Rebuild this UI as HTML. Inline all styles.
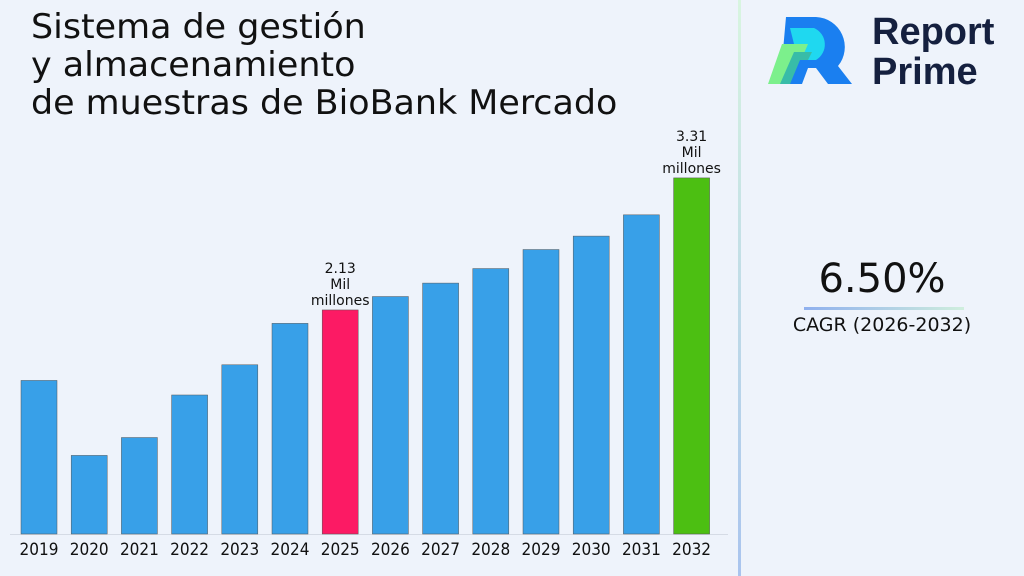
<!DOCTYPE html>
<html><head><meta charset="utf-8"><style>
body{margin:0;width:1024px;height:576px;overflow:hidden;background:#eef3fb;font-family:"DejaVu Sans","Liberation Sans",sans-serif;position:relative}
.title{position:absolute;left:31px;top:8px;font-size:34px;line-height:38px;color:#111;font-family:"DejaVu Sans Condensed","DejaVu Sans",sans-serif;transform:scaleX(1.14);transform-origin:left top;white-space:nowrap}
.divider{position:absolute;left:738px;top:0;width:3px;height:576px;background:linear-gradient(#d8f5e0,#a9c4ee)}
.logo{position:absolute;left:768px;top:14px}
.brand{position:absolute;left:872px;top:12px;font-family:"Liberation Sans",sans-serif;font-weight:bold;font-size:38px;line-height:40px;color:#15203f}
.cagr{position:absolute;left:760px;width:264px;text-align:center}
</style></head><body>
<div class="title">Sistema de gestión<br>y almacenamiento<br>de muestras de BioBank Mercado</div>
<div class="divider"></div>
<svg class="logo" width="90" height="72">
<path d="M18 3 H48 A30 30 0 0 1 70 52 L84 70 H60 L48 54 H40 L34 70 H12 Z" fill="#1a7ff0"/>
<path d="M22 14 H46 A18 18 0 0 1 48 46 H30 Z" fill="#1fd8f0"/>
<path d="M14 30 H40 L34 44 H26 L16 70 H0 Z" fill="#7cf08c"/>
<path d="M26 38 H44 L40 46 H32 L22 70 H12 Z" fill="#38bca8"/>
</svg>
<div class="brand">Report<br>Prime</div>
<div class="cagr" style="top:256px;left:750px;font-size:40px;color:#111">6.50%</div>
<div style="position:absolute;left:804px;top:307px;width:160px;height:3px;background:linear-gradient(90deg,#8fb0ee,#cfeedd)"></div>
<div class="cagr" style="top:314px;left:750px;font-size:19px;color:#111">CAGR (2026-2032)</div>
<svg id="chart" width="740" height="576" style="position:absolute;left:0;top:0"></svg>
<script>
const categories=["2019","2020","2021","2022","2023","2024","2025","2026","2027","2028","2029","2030","2031","2032"];
const values=[1.50,0.83,0.99,1.37,1.64,2.01,2.13,2.25,2.37,2.50,2.67,2.79,2.98,3.31];
const labels={6:"2.13",13:"3.31"};
const NS="http://www.w3.org/2000/svg";
const svg=document.getElementById('chart');
const y=v=>548.3-111.9*v;
const x=i=>21+i*50.2;
function el(t,a){const e=document.createElementNS(NS,t);for(const k in a)e.setAttribute(k,a[k]);svg.appendChild(e);return e;}
const ax=el('line',{x1:10,x2:728,y1:534.5,y2:534.5,stroke:'#d5dbe5','stroke-width':1});


categories.forEach((c,i)=>{
  const col=i===6?'#fc1a64':i===13?'#4cbf12':'#38a0e8';
  const r=el('rect',{x:x(i),y:y(values[i]),width:36,height:534-y(values[i]),fill:col,stroke:'#555','stroke-width':0.5});
  
  
  const t=el('text',{x:x(i)+18,y:555,'text-anchor':'middle','font-size':17,fill:'#111','font-family':'"DejaVu Sans Condensed","DejaVu Sans",sans-serif'});
  t.textContent=c;
  
  
  if(labels[i]){
    const top=y(values[i]);
    [labels[i],"Mil","millones"].forEach((s,k)=>{
      const l=el('text',{x:x(i)+18,y:top-37+k*16,'text-anchor':'middle','font-size':14,fill:'#111'});
      l.textContent=s;
      
      
    });
  }
});
</script>
</body></html>
